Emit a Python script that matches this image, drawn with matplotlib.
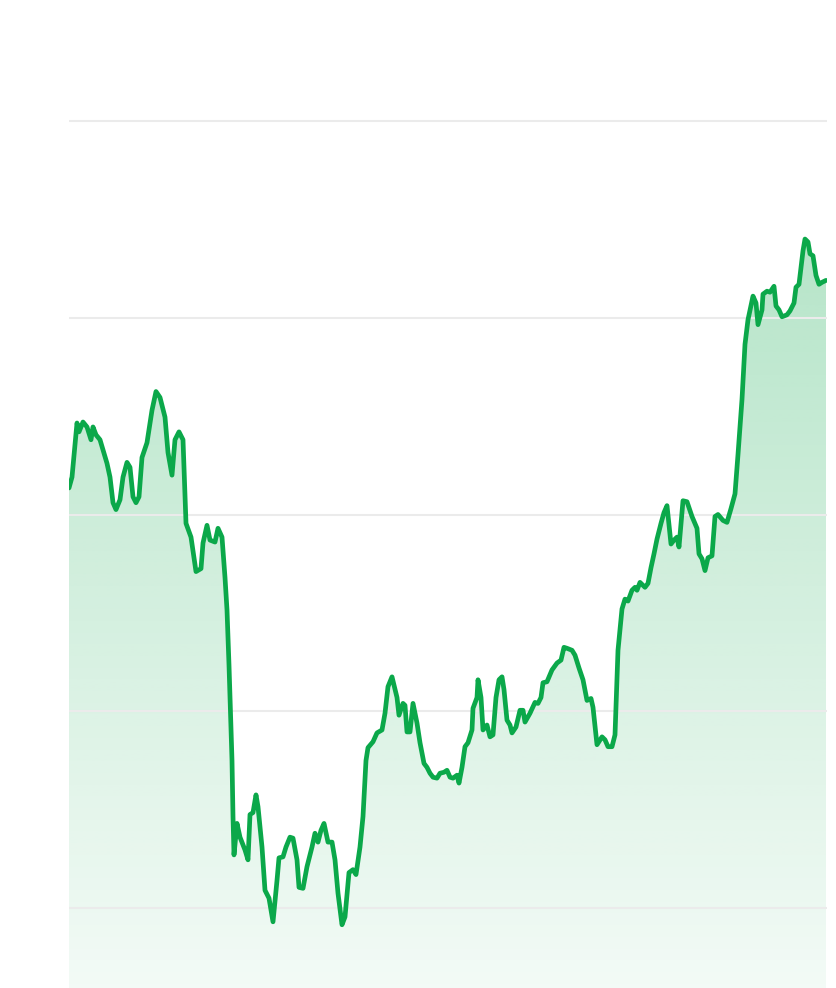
import numpy as np
import matplotlib
matplotlib.use("Agg")
import matplotlib.pyplot as plt
from matplotlib.patches import Polygon

# day index and price
days = [0, 1.5, 4, 5, 7, 9, 11, 12, 13.5, 15.5, 19, 20.5, 22, 23.5, 25.5, 27, 29, 30.5,
        32, 33.5, 35, 36.5, 39, 41.5, 43.5, 45.5, 48, 49.5, 51.5, 53, 55, 57, 58.5, 61,
        63.5, 66, 67, 69, 70.5, 73, 74.5, 76.5, 78, 79, 80, 81.5, 82, 82.5, 84, 85.5, 88,
        89.5, 90.5, 92, 93.5, 94.5, 96.5, 98, 100, 102, 104, 105, 107, 108.5, 110.5, 112,
        114, 115, 117, 119, 121.5, 123, 124.5, 126, 127.5, 129.5, 131.5, 133, 134.5,
        136.5, 138, 140, 142, 143.5, 145.5, 147, 148.5, 149.5, 152, 154, 156.5, 158,
        159.5, 161.5, 164, 165, 167, 168, 169, 170.5, 172, 174, 175.5, 177.5, 179, 180.5,
        182, 184, 185.5, 187.5, 189, 190.5, 192, 194, 195, 196.5, 198, 199.5, 201.5, 202,
        204, 204.5, 206, 207, 209, 210.5, 212, 213.5, 215, 216.5, 217.5, 219, 220.5,
        221.5, 223.5, 225.5, 227, 228, 230.5, 233, 234.5, 236, 237, 239, 241.5, 244, 246,
        247.5, 249, 251.5, 253, 255, 257, 259, 261, 262, 264, 266.5, 268, 269.5, 271.5,
        273, 274.5, 276.5, 278, 279.5, 281.5, 283, 284, 285.5, 288, 289.5, 291, 292.5,
        294, 296, 297.5, 299, 301, 302.5, 304, 305, 307, 309, 311.5, 314, 315, 316.5, 318,
        319.5, 321.5, 323, 324.5, 327, 329, 331, 333, 334.5, 336.5, 338, 339.5, 342,
        343.5, 344.5, 346.5, 347, 349, 350.5, 352.5, 353.5, 355, 356.5, 359, 360.5,
        362.5, 363.5, 365, 367, 368, 369.5, 370.5, 372, 373.5, 375, 376.5, 378.5]

price = [62.7, 63.8, 69.3, 68.4, 69.4, 68.9, 67.6, 68.9, 68.1, 67.6, 65.2, 63.8, 61.2,
         60.5, 61.5, 63.8, 65.3, 64.8, 61.8, 61.2, 61.8, 65.8, 67.3, 70.6, 72.5, 71.9,
         69.9, 66.3, 64.0, 67.6, 68.4, 67.6, 59.1, 57.7, 54.2, 54.5, 57.1, 58.9, 57.4,
         57.2, 58.6, 57.7, 53.6, 50.3, 44.7, 35.0, 29.3, 25.4, 28.6, 27.2, 25.9, 24.9,
         29.5, 29.7, 31.5, 30.3, 26.2, 21.8, 21.0, 18.6, 22.8, 25.1, 25.2, 26.2, 27.2,
         27.1, 24.9, 22.1, 22.0, 24.2, 26.2, 27.6, 26.7, 27.9, 28.6, 26.7, 26.7, 24.9,
         21.5, 18.3, 19.1, 23.6, 23.9, 23.4, 26.2, 29.3, 35.0, 36.3, 36.9, 37.8, 38.1,
         39.8, 42.5, 43.5, 41.4, 39.6, 40.8, 40.6, 37.9, 37.9, 40.8, 38.8, 36.8, 34.7,
         34.3, 33.7, 33.3, 33.2, 33.7, 33.8, 34.0, 33.3, 33.2, 33.5, 32.7, 34.3, 36.4,
         36.8, 38.1, 40.3, 41.4, 43.2, 41.4, 38.1, 38.6, 37.4, 37.6, 41.4, 43.2, 43.5,
         42.2, 39.1, 38.6, 37.8, 38.4, 40.1, 40.1, 38.9, 39.8, 40.9, 40.8, 41.4, 42.9,
         43.0, 44.2, 44.9, 45.2, 46.5, 46.4, 46.2, 45.7, 44.4, 43.2, 41.1, 41.3, 40.4,
         36.6, 37.4, 37.1, 36.4, 36.4, 37.6, 46.2, 50.4, 51.4, 51.2, 52.3, 52.6, 52.3,
         53.1, 52.6, 53.0, 54.6, 56.0, 57.5, 59.1, 60.2, 60.9, 57.0, 57.4, 57.7, 56.7,
         61.4, 61.3, 59.8, 58.6, 56.0, 55.5, 54.3, 55.6, 55.8, 59.8, 60.0, 59.4, 59.2,
         60.6, 62.1, 66.1, 71.7, 77.3, 79.8, 82.2, 81.5, 79.3, 80.8, 82.4, 82.7, 82.6,
         83.2, 81.2, 80.8, 80.1, 80.3, 80.7, 81.5, 83.1, 83.4, 86.8, 88.0, 87.7, 86.5,
         86.3, 84.3, 83.4, 83.6, 83.8]

grid_levels = [20, 40, 60, 80, 100]

line_color = "#0ba84a"
y_lo, y_hi = 11.87, 112.3
x_lo, x_hi = 0, 379

fig = plt.figure(figsize=(8.36, 9.88), dpi=100)
ax = fig.add_axes([69 / 836, 0, 758 / 836, 1])
ax.set_xlim(x_lo, x_hi)
ax.set_ylim(y_lo, y_hi)
for s in ax.spines.values():
    s.set_visible(False)
ax.set_xticks([])
ax.set_yticks([])

# gradient fill under the line, clipped to the area below it
top = max(price)
n = 256
rgba = np.zeros((n, 1, 4))
rgba[..., :3] = matplotlib.colors.to_rgb(line_color)
rgba[:, 0, 3] = np.linspace(0.05, 0.30, n)
img = ax.imshow(rgba, extent=[x_lo, x_hi, y_lo, top], origin="lower",
                aspect="auto", zorder=1, interpolation="bilinear")
verts = [(days[0], y_lo)] + list(zip(days, price)) + [(days[-1], y_lo)]
poly = Polygon(verts, closed=True, facecolor="none", edgecolor="none")
ax.add_patch(poly)
img.set_clip_path(poly)

for g in grid_levels:
    ax.axhline(g, color="#ebebeb", lw=1.5, zorder=2)

ax.plot(days, price, color=line_color, lw=3.4, zorder=3,
        solid_joinstyle="round", solid_capstyle="round")

fig.savefig("out.png", dpi=100)
